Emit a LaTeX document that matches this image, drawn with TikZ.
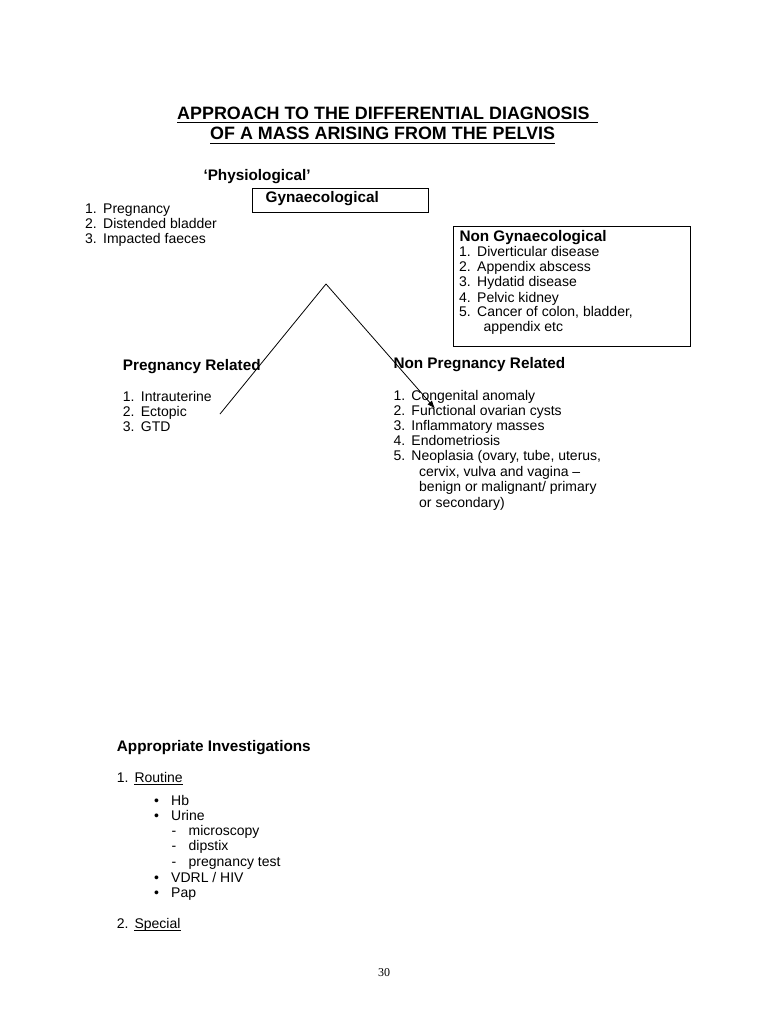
\documentclass[tikz,border=0pt]{standalone}
\usepackage{fontspec}
\setmainfont{Liberation Sans}
\newfontfamily\pgnumfont{Liberation Serif}
\usetikzlibrary{arrows.meta}
\newcommand\numitem[2]{\makebox[18pt][l]{#1}#2}
\newcommand\bulitem[2]{\makebox[17pt][l]{#1}#2}
\begin{document}
\begin{tikzpicture}[x=1pt,y=-1pt,
  txt/.style={anchor=base west,inner sep=0pt,font=\fontsize{14}{16}\selectfont},
  hd/.style={anchor=base west,inner sep=0pt,font=\fontsize{15.3}{18}\selectfont\bfseries},
  ttl/.style={anchor=base west,inner sep=0pt,font=\fontsize{17.9}{21}\selectfont\bfseries},
  frame/.style={draw=black,line width=0.9pt,anchor=north west,inner sep=0pt},
  ul/.style={line width=0.9pt},
  conn/.style={line width=0.8pt}]
\path[use as bounding box,fill=white] (0,0) rectangle (768,1024);

% Title
\node[ttl] (t1) at (177,119.3) {APPROACH TO THE DIFFERENTIAL DIAGNOSIS};
\draw[ul] ([yshift=-3.4pt]t1.base west) -- ([xshift=8pt,yshift=-3.4pt]t1.base east);
\node[ttl] (t2) at (210,140) {OF A MASS ARISING FROM THE PELVIS};
\draw[ul] ([yshift=-3.4pt]t2.base west) -- ([yshift=-3.4pt]t2.base east);

% Physiological
\node[hd] (phys) at (203.3,181) {‘Physiological’};
\node[txt] (p1) at (85,213.3) {\numitem{1.}{Pregnancy}};
\node[txt] (p2) at (85,228.3) {\numitem{2.}{Distended bladder}};
\node[txt] (p3) at (85,243.3) {\numitem{3.}{Impacted faeces}};

% Gynaecological box
\node[frame,minimum width=176pt,minimum height=24.6pt] (gbox) at (251.7,187.7) {};
\node[hd] (gyn) at (265.5,202.3) {Gynaecological};

% Non Gynaecological box
\node[frame,minimum width=237.3pt,minimum height=120pt] (ngbox) at (452.7,226) {};
\node[hd] (ngh) at (459.3,241.7) {Non Gynaecological};
\node[txt] (ng1) at (459,256.7) {\numitem{1.}{Diverticular disease}};
\node[txt] (ng2) at (459,271.7) {\numitem{2.}{Appendix abscess}};
\node[txt] (ng3) at (459,286.7) {\numitem{3.}{Hydatid disease}};
\node[txt] (ng4) at (459,302.3) {\numitem{4.}{Pelvic kidney}};
\node[txt] (ng5) at (459,316.7) {\numitem{5.}{Cancer of colon, bladder,}};
\node[txt] (ng5b) at (483.5,331.7) {appendix etc};

% Connectors
\coordinate (apex) at (326,284);
\coordinate (lend) at (220,414);
\coordinate (rend) at (435,408.5);
\draw[conn] (apex) -- (lend);
\draw[conn,-{Latex[length=8pt,width=6pt]}] (apex) -- (rend);

% Pregnancy related
\node[hd] (prh) at (122.7,370) {Pregnancy Related};
\node[txt] (pr1) at (122.7,401) {\numitem{1.}{Intrauterine}};
\node[txt] (pr2) at (122.7,416.7) {\numitem{2.}{Ectopic}};
\node[txt] (pr3) at (122.7,431.7) {\numitem{3.}{GTD}};

% Non pregnancy related
\node[hd] (nprh) at (393.3,368.3) {Non Pregnancy Related};
\node[txt] (npr1) at (393.3,400) {\numitem{1.}{Congenital anomaly}};
\node[txt] (npr2) at (393.3,415.3) {\numitem{2.}{Functional ovarian cysts}};
\node[txt] (npr3) at (393.3,430.3) {\numitem{3.}{Inflammatory masses}};
\node[txt] (npr4) at (393.3,445.3) {\numitem{4.}{Endometriosis}};
\node[txt] (npr5) at (393.3,460.7) {\numitem{5.}{Neoplasia (ovary, tube, uterus,}};
\node[txt] (npr5b) at (419,476.7) {cervix, vulva and vagina –};
\node[txt] (npr5c) at (419,491.7) {benign or malignant/ primary};
\node[txt] (npr5d) at (419,507.3) {or secondary)};

% Investigations
\node[hd] (aih) at (116.7,751.7) {Appropriate Investigations};
\node[txt] (r1n) at (116.7,782.3) {1.};
\node[txt] (r1) at (134.3,782.3) {Routine};
\draw[line width=0.8pt] ([yshift=-2pt]r1.base west) -- ([yshift=-2pt]r1.base east);
\node[txt] (b1) at (154,805) {\bulitem{•}{Hb}};
\node[txt] (b2) at (154,820) {\bulitem{•}{Urine}};
\node[txt] (d1) at (171.5,835.3) {\bulitem{-}{microscopy}};
\node[txt] (d2) at (171.5,850.7) {\bulitem{-}{dipstix}};
\node[txt] (d3) at (171.5,866.7) {\bulitem{-}{pregnancy test}};
\node[txt] (b3) at (154,882.3) {\bulitem{•}{VDRL / HIV}};
\node[txt] (b4) at (154,897.3) {\bulitem{•}{Pap}};
\node[txt] (r2n) at (116.7,928.3) {2.};
\node[txt] (r2) at (134.3,928.3) {Special};
\draw[line width=0.8pt] ([yshift=-2pt]r2.base west) -- ([yshift=-2pt]r2.base east);

% Page number
\node[anchor=base,inner sep=0pt,font=\pgnumfont\fontsize{12}{14}\selectfont] (pg) at (384,976.7) {30};
\end{tikzpicture}
\end{document}
